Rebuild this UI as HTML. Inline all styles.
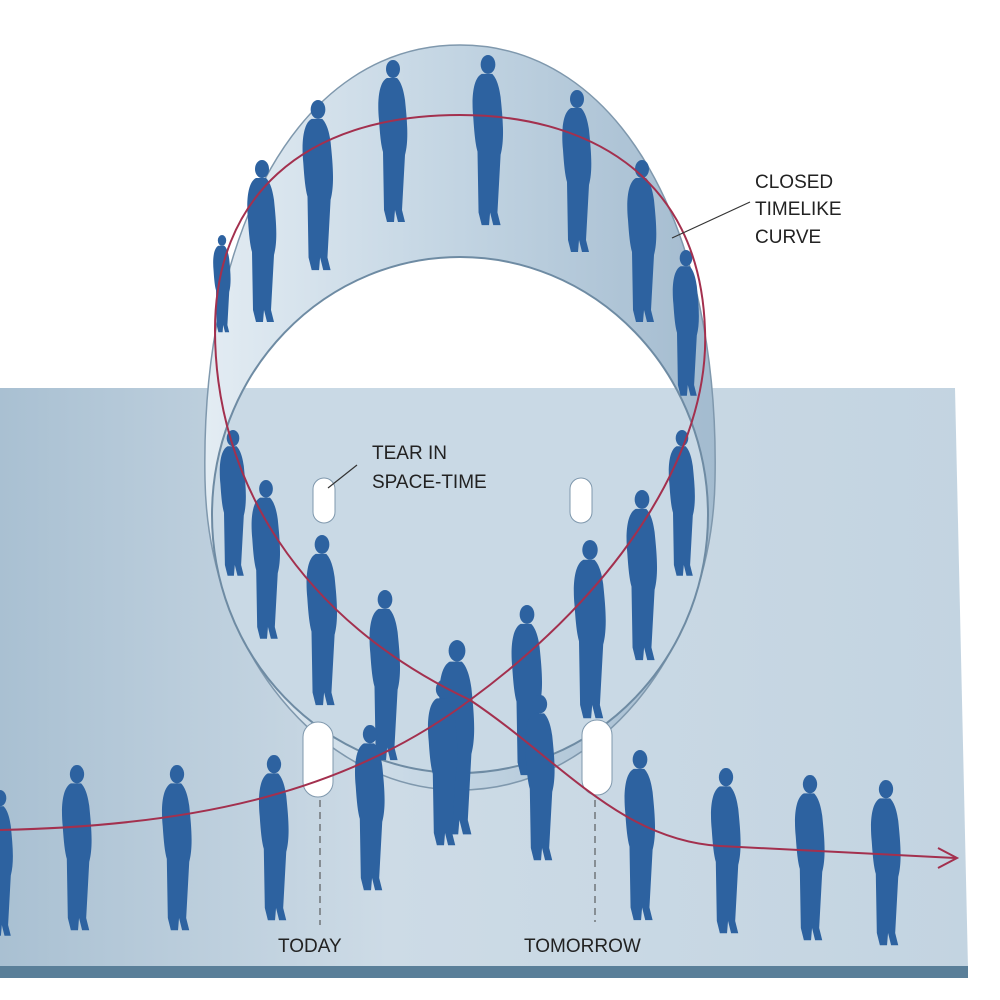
<!DOCTYPE html>
<html><head><meta charset="utf-8"><style>
html,body{margin:0;padding:0;background:#fff;}
svg{display:block;font-family:"Liberation Sans",sans-serif;}
</style></head><body>
<svg width="1000" height="1000" viewBox="0 0 1000 1000" xmlns="http://www.w3.org/2000/svg">
<defs>
<linearGradient id="pl" x1="0" y1="0" x2="1" y2="0">
<stop offset="0" stop-color="#a9c0d2"/><stop offset="0.4" stop-color="#cddbe6"/><stop offset="1" stop-color="#c3d4e1"/></linearGradient>
<linearGradient id="tb" x1="0" y1="0" x2="1" y2="0">
<stop offset="0" stop-color="#e3ecf3"/><stop offset="0.5" stop-color="#c2d4e2"/><stop offset="1" stop-color="#a3bbcf"/></linearGradient>
<clipPath id="up"><rect x="0" y="0" width="1000" height="388"/></clipPath>
<clipPath id="dn"><rect x="0" y="388" width="1000" height="612"/></clipPath>
<g id="f">
<ellipse cx="0" cy="9" rx="7" ry="9"/>
<path d="M-6,18 C-14,22 -16,40 -14,60 C-13,75 -12,85 -10,92 L-9,150 L-6,162 L1,162 L2,150 L5,162 L12,162 L9,150 L12,95 C16,80 14,60 12,40 C10,25 6,20 4,18 Z"/>
</g>
</defs>
<!-- plane -->
<path d="M0,388 L955,388 L968,968 L0,968 Z" fill="url(#pl)"/>
<rect x="0" y="966" width="968" height="12" fill="#5a7f99"/>
<!-- tube -->
<path d="M205,480 C200,230 300,45 460,45 C620,45 720,230 715,480 C712,650 600,790 460,790 C320,790 208,650 205,480 Z" fill="url(#tb)" stroke="#7f98ad" stroke-width="1.5"/>
<ellipse cx="460" cy="515" rx="248" ry="258" fill="#fff" clip-path="url(#up)"/>
<ellipse cx="460" cy="515" rx="248" ry="258" fill="#c9d9e5" clip-path="url(#dn)"/>
<ellipse cx="460" cy="515" rx="248" ry="258" fill="none" stroke="#6e8ba3" stroke-width="2"/>
<!-- slots -->
<rect x="313" y="478" width="22" height="45" rx="11" fill="#fff" stroke="#7f98ad"/>
<rect x="570" y="478" width="22" height="45" rx="11" fill="#fff" stroke="#7f98ad"/>
<rect x="303" y="722" width="30" height="75" rx="15" fill="#fff" stroke="#7f98ad"/>
<rect x="582" y="720" width="30" height="75" rx="15" fill="#fff" stroke="#7f98ad"/>
<!-- figures -->
<g fill="#2d62a0">
<use href="#f" transform="translate(222,235) scale(0.6)"/>
<use href="#f" transform="translate(262,160) scale(1.0)"/>
<use href="#f" transform="translate(318,100) scale(1.05)"/>
<use href="#f" transform="translate(393,60) scale(1.0)"/>
<use href="#f" transform="translate(488,55) scale(1.05)"/>
<use href="#f" transform="translate(577,90) scale(1.0)"/>
<use href="#f" transform="translate(642,160) scale(1.0)"/>
<use href="#f" transform="translate(686,250) scale(0.9)"/>
<use href="#f" transform="translate(233,430) scale(0.9)"/>
<use href="#f" transform="translate(266,480) scale(0.98)"/>
<use href="#f" transform="translate(322,535) scale(1.05)"/>
<use href="#f" transform="translate(385,590) scale(1.05)"/>
<use href="#f" transform="translate(457,640) scale(1.2)"/>
<use href="#f" transform="translate(527,605) scale(1.05)"/>
<use href="#f" transform="translate(590,540) scale(1.1)"/>
<use href="#f" transform="translate(642,490) scale(1.05)"/>
<use href="#f" transform="translate(682,430) scale(0.9)"/>
<use href="#f" transform="translate(0,790) scale(0.9)"/>
<use href="#f" transform="translate(77,765) scale(1.02)"/>
<use href="#f" transform="translate(177,765) scale(1.02)"/>
<use href="#f" transform="translate(274,755) scale(1.02)"/>
<use href="#f" transform="translate(370,725) scale(1.02)"/>
<use href="#f" transform="translate(443,680) scale(1.02)"/>
<use href="#f" transform="translate(540,695) scale(1.02)"/>
<use href="#f" transform="translate(640,750) scale(1.05)"/>
<use href="#f" transform="translate(726,768) scale(1.02)"/>
<use href="#f" transform="translate(810,775) scale(1.02)"/>
<use href="#f" transform="translate(886,780) scale(1.02)"/>
</g>
<!-- curve -->
<path d="M0,830 C200,826 350,790 470,700 C620,590 710,450 705,330 C700,170 580,115 460,115 C300,115 215,200 215,330 C215,480 300,620 470,700 C560,760 620,840 720,846 L955,858" fill="none" stroke="#a3304e" stroke-width="2"/>
<path d="M938,848 L957,858 L938,868" fill="none" stroke="#a3304e" stroke-width="2"/>
<!-- leaders -->
<line x1="672" y1="238" x2="750" y2="202" stroke="#333" stroke-width="1.2"/>
<line x1="328" y1="488" x2="357" y2="465" stroke="#333" stroke-width="1.2"/>
<line x1="320" y1="800" x2="320" y2="925" stroke="#444" stroke-dasharray="7,5"/>
<line x1="595" y1="800" x2="595" y2="922" stroke="#444" stroke-dasharray="7,5"/>
<g fill="#222" font-size="19">
<text x="755" y="188">CLOSED</text>
<text x="755" y="215">TIMELIKE</text>
<text x="755" y="243">CURVE</text>
<text x="372" y="459">TEAR IN</text>
<text x="372" y="488">SPACE-TIME</text>
<text x="278" y="952">TODAY</text>
<text x="524" y="952">TOMORROW</text>
</g>
</svg>
</body></html>
